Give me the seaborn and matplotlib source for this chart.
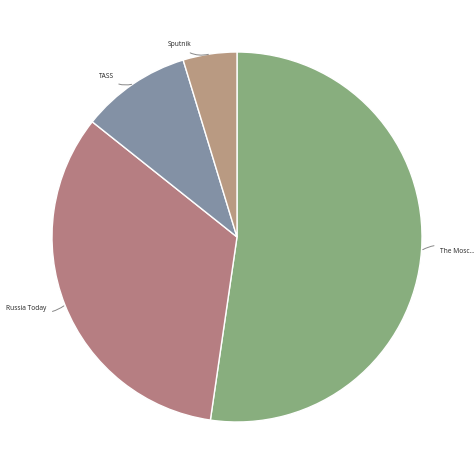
import numpy as np
import matplotlib.pyplot as plt
import seaborn as sns

# Données (part en %)
sources = ["The Moscow Times", "Russia Today", "TASS", "Sputnik"]
labels = ["The Mosc…", "Russia Today", "TASS", "Sputnik"]
parts = [52.3, 33.4, 9.6, 4.7]
couleurs = ["#88ae7e", "#b67e82", "#8391a5", "#b99a82"]

sns.set_theme(style="white")
plt.rcParams['font.family'] = ['Open Sans', 'DejaVu Sans']

fig = plt.figure(figsize=(4.74, 4.74), dpi=100)
r = 185 / 474
ax = fig.add_axes([0.5 - r, 0.5 - r, 2 * r, 2 * r])

wedges, _ = ax.pie(parts, colors=couleurs, startangle=90, counterclock=False,
                   wedgeprops=dict(edgecolor="white", linewidth=1))
ax.set_xlim(-1, 1)
ax.set_ylim(-1, 1)
ax.set_aspect("equal")

# Étiquettes avec traits de liaison courbés
for w, lab in zip(wedges, labels):
    ang = np.deg2rad((w.theta1 + w.theta2) / 2)
    x, y = np.cos(ang), np.sin(ang)
    ha = "left" if x > 0 else "right"
    tx, ty = x + 0.1 * np.sign(x), 1.05 * y
    ax.annotate(lab, xy=(x, y), xytext=(tx, ty),
                ha=ha, va="center", fontsize=4.8, color="#222222",
                annotation_clip=False,
                arrowprops=dict(arrowstyle="-", color="#888888", lw=0.7,
                                connectionstyle="arc3,rad=0.3",
                                shrinkA=2, shrinkB=1))

fig.savefig("out.png", dpi=100)
